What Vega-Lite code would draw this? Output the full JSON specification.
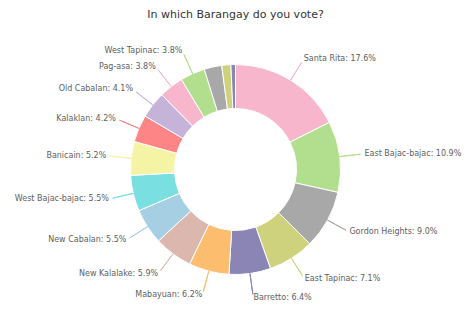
{
  "$schema": "https://vega.github.io/schema/vega-lite/v6.json",
  "width": 474,
  "height": 316,
  "autosize": {"type": "fit", "contains": "padding"},
  "padding": {"top": 9, "bottom": 0, "left": 0, "right": 3},
  "background": "white",
  "title": {"text": "In which Barangay do you vote?", "font": "DejaVu Sans", "fontSize": 11, "fontWeight": "normal", "color": "#333333", "offset": 3},
  "view": {"stroke": null},
  "data": {"values": [
    {"order": 1, "name": "Santa Rita", "value": 17.6},
    {"order": 2, "name": "East Bajac-bajac", "value": 10.9},
    {"order": 3, "name": "Gordon Heights", "value": 9.0},
    {"order": 4, "name": "East Tapinac", "value": 7.1},
    {"order": 5, "name": "Barretto", "value": 6.4},
    {"order": 6, "name": "Mabayuan", "value": 6.2},
    {"order": 7, "name": "New Kalalake", "value": 5.9},
    {"order": 8, "name": "New Cabalan", "value": 5.5},
    {"order": 9, "name": "West Bajac-bajac", "value": 5.5},
    {"order": 10, "name": "Banicain", "value": 5.2},
    {"order": 11, "name": "Kalaklan", "value": 4.2},
    {"order": 12, "name": "Old Cabalan", "value": 4.1},
    {"order": 13, "name": "Pag-asa", "value": 3.8},
    {"order": 14, "name": "West Tapinac", "value": 3.8},
    {"order": 15, "name": "New Asinan", "value": 2.7},
    {"order": 16, "name": "New Ilalim", "value": 1.4},
    {"order": 17, "name": "New Kababae", "value": 0.7}
  ]},
  "transform": [
    {"window": [{"op": "sum", "field": "value", "as": "end"}], "sort": [{"field": "order"}], "frame": [null, 0]},
    {"calculate": "datum.end - datum.value", "as": "start"},
    {"calculate": "datum.end - datum.value / 2", "as": "mid"},
    {"calculate": "datum.name + ': ' + format(datum.value, '.1f') + '%'", "as": "label"}
  ],
  "encoding": {
    "color": {
      "field": "name", "type": "nominal", "legend": null,
      "scale": {
        "domain": ["Santa Rita", "East Bajac-bajac", "Gordon Heights", "East Tapinac", "Barretto", "Mabayuan", "New Kalalake", "New Cabalan", "West Bajac-bajac", "Banicain", "Kalaklan", "Old Cabalan", "Pag-asa", "West Tapinac", "New Asinan", "New Ilalim", "New Kababae"],
        "range": ["#f8b6cd", "#b2df8d", "#a8a8a8", "#cfd27c", "#8a85b5", "#fcbe6e", "#dbb7ad", "#a6cfe3", "#7adfe0", "#f5f3a4", "#fd8585", "#c6b3da", "#f8b6cd", "#b2df8d", "#a8a8a8", "#cfd27c", "#8a85b5"]
      }
    }
  },
  "layer": [
    {
      "mark": {"type": "arc", "outerRadius": 105, "innerRadius": 61, "stroke": "white", "strokeWidth": 1},
      "encoding": {
        "theta": {"field": "start", "type": "quantitative", "scale": {"domain": [0, 100]}},
        "theta2": {"field": "end"}
      }
    },
    {
      "transform": [{"filter": "datum.value >= 3"}],
      "mark": {"type": "arc", "outerRadius": 126, "innerRadius": 105, "filled": false, "strokeWidth": 1},
      "encoding": {
        "theta": {"field": "mid", "type": "quantitative"},
        "theta2": {"field": "mid"}
      }
    },
    {
      "transform": [{"filter": "datum.value >= 3 && datum.mid < 50"}],
      "mark": {"type": "text", "radius": 130, "align": "left", "baseline": "middle", "font": "DejaVu Sans", "fontSize": 8, "color": "#606060"},
      "encoding": {
        "theta": {"field": "mid", "type": "quantitative"},
        "text": {"field": "label"},
        "color": {"value": "#606060"}
      }
    },
    {
      "transform": [{"filter": "datum.value >= 3 && datum.mid >= 50"}],
      "mark": {"type": "text", "radius": 130, "align": "right", "baseline": "middle", "font": "DejaVu Sans", "fontSize": 8, "color": "#606060"},
      "encoding": {
        "theta": {"field": "mid", "type": "quantitative"},
        "text": {"field": "label"},
        "color": {"value": "#606060"}
      }
    }
  ]
}
